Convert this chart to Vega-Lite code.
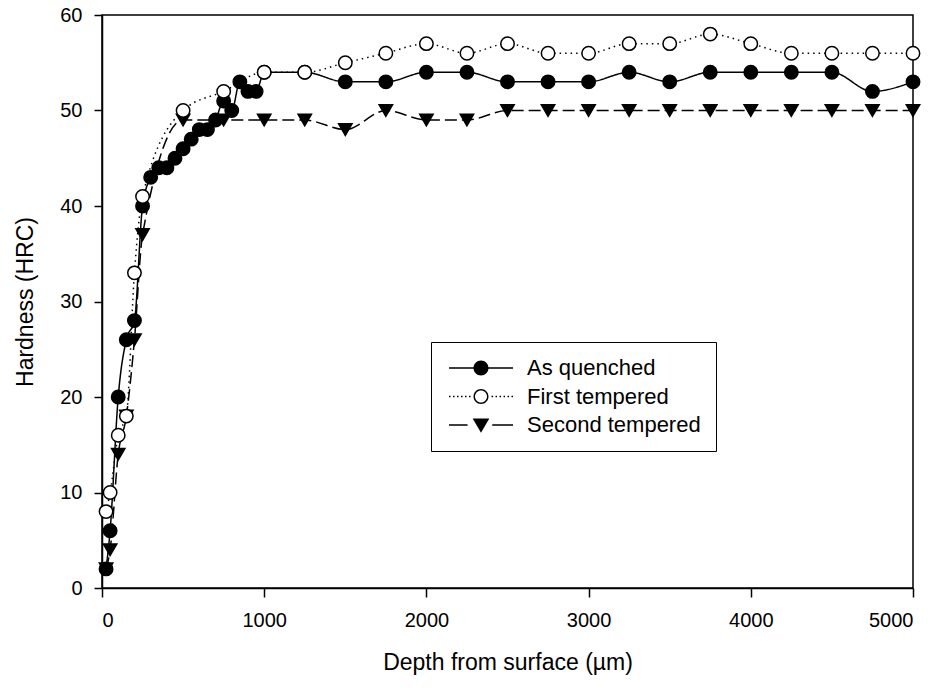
{
  "$schema": "https://vega.github.io/schema/vega-lite/v6.json",
  "width": 811,
  "height": 573,
  "autosize": {"type": "none"},
  "padding": {"left": 102, "top": 15, "right": 28, "bottom": 103},
  "background": "white",
  "config": {
    "font": "Liberation Sans",
    "view": {"stroke": "black", "strokeWidth": 1.5},
    "axis": {
      "domainColor": "black", "domainWidth": 1.5, "tickColor": "black", "tickWidth": 1.5,
      "tickSize": 8, "labelColor": "black", "labelFontSize": 20, "labelFont": "Liberation Sans",
      "titleColor": "black", "titleFontSize": 23, "titleFontWeight": "normal", "titleFont": "Liberation Sans",
      "grid": false
    }
  },
  "data": {"values": [
    {"s": "As quenched", "d": 25, "h": 2},
    {"s": "As quenched", "d": 50, "h": 6},
    {"s": "As quenched", "d": 100, "h": 20},
    {"s": "As quenched", "d": 150, "h": 26},
    {"s": "As quenched", "d": 200, "h": 28},
    {"s": "As quenched", "d": 250, "h": 40},
    {"s": "As quenched", "d": 300, "h": 43},
    {"s": "As quenched", "d": 350, "h": 44},
    {"s": "As quenched", "d": 400, "h": 44},
    {"s": "As quenched", "d": 450, "h": 45},
    {"s": "As quenched", "d": 500, "h": 46},
    {"s": "As quenched", "d": 550, "h": 47},
    {"s": "As quenched", "d": 600, "h": 48},
    {"s": "As quenched", "d": 650, "h": 48},
    {"s": "As quenched", "d": 700, "h": 49},
    {"s": "As quenched", "d": 750, "h": 51},
    {"s": "As quenched", "d": 800, "h": 50},
    {"s": "As quenched", "d": 850, "h": 53},
    {"s": "As quenched", "d": 900, "h": 52},
    {"s": "As quenched", "d": 950, "h": 52},
    {"s": "As quenched", "d": 1000, "h": 54},
    {"s": "As quenched", "d": 1250, "h": 54},
    {"s": "As quenched", "d": 1500, "h": 53},
    {"s": "As quenched", "d": 1750, "h": 53},
    {"s": "As quenched", "d": 2000, "h": 54},
    {"s": "As quenched", "d": 2250, "h": 54},
    {"s": "As quenched", "d": 2500, "h": 53},
    {"s": "As quenched", "d": 2750, "h": 53},
    {"s": "As quenched", "d": 3000, "h": 53},
    {"s": "As quenched", "d": 3250, "h": 54},
    {"s": "As quenched", "d": 3500, "h": 53},
    {"s": "As quenched", "d": 3750, "h": 54},
    {"s": "As quenched", "d": 4000, "h": 54},
    {"s": "As quenched", "d": 4250, "h": 54},
    {"s": "As quenched", "d": 4500, "h": 54},
    {"s": "As quenched", "d": 4750, "h": 52},
    {"s": "As quenched", "d": 5000, "h": 53},
    {"s": "Second tempered", "d": 25, "h": 2},
    {"s": "Second tempered", "d": 50, "h": 4},
    {"s": "Second tempered", "d": 100, "h": 14},
    {"s": "Second tempered", "d": 150, "h": 18},
    {"s": "Second tempered", "d": 200, "h": 26},
    {"s": "Second tempered", "d": 250, "h": 37},
    {"s": "Second tempered", "d": 500, "h": 49},
    {"s": "Second tempered", "d": 750, "h": 49},
    {"s": "Second tempered", "d": 1000, "h": 49},
    {"s": "Second tempered", "d": 1250, "h": 49},
    {"s": "Second tempered", "d": 1500, "h": 48},
    {"s": "Second tempered", "d": 1750, "h": 50},
    {"s": "Second tempered", "d": 2000, "h": 49},
    {"s": "Second tempered", "d": 2250, "h": 49},
    {"s": "Second tempered", "d": 2500, "h": 50},
    {"s": "Second tempered", "d": 2750, "h": 50},
    {"s": "Second tempered", "d": 3000, "h": 50},
    {"s": "Second tempered", "d": 3250, "h": 50},
    {"s": "Second tempered", "d": 3500, "h": 50},
    {"s": "Second tempered", "d": 3750, "h": 50},
    {"s": "Second tempered", "d": 4000, "h": 50},
    {"s": "Second tempered", "d": 4250, "h": 50},
    {"s": "Second tempered", "d": 4500, "h": 50},
    {"s": "Second tempered", "d": 4750, "h": 50},
    {"s": "Second tempered", "d": 5000, "h": 50},
    {"s": "First tempered", "d": 25, "h": 8},
    {"s": "First tempered", "d": 50, "h": 10},
    {"s": "First tempered", "d": 100, "h": 16},
    {"s": "First tempered", "d": 150, "h": 18},
    {"s": "First tempered", "d": 200, "h": 33},
    {"s": "First tempered", "d": 250, "h": 41},
    {"s": "First tempered", "d": 500, "h": 50},
    {"s": "First tempered", "d": 750, "h": 52},
    {"s": "First tempered", "d": 1000, "h": 54},
    {"s": "First tempered", "d": 1250, "h": 54},
    {"s": "First tempered", "d": 1500, "h": 55},
    {"s": "First tempered", "d": 1750, "h": 56},
    {"s": "First tempered", "d": 2000, "h": 57},
    {"s": "First tempered", "d": 2250, "h": 56},
    {"s": "First tempered", "d": 2500, "h": 57},
    {"s": "First tempered", "d": 2750, "h": 56},
    {"s": "First tempered", "d": 3000, "h": 56},
    {"s": "First tempered", "d": 3250, "h": 57},
    {"s": "First tempered", "d": 3500, "h": 57},
    {"s": "First tempered", "d": 3750, "h": 58},
    {"s": "First tempered", "d": 4000, "h": 57},
    {"s": "First tempered", "d": 4250, "h": 56},
    {"s": "First tempered", "d": 4500, "h": 56},
    {"s": "First tempered", "d": 4750, "h": 56},
    {"s": "First tempered", "d": 5000, "h": 56}
  ]},
  "encoding": {
    "x": {"field": "d", "type": "quantitative", "scale": {"domain": [0, 5000], "nice": false},
      "axis": {"values": [0, 1000, 2000, 3000, 4000, 5000], "format": "d", "title": "Depth from surface (µm)", "tickSize": 9, "labelPadding": 13, "titlePadding": 21}},
    "y": {"field": "h", "type": "quantitative", "scale": {"domain": [0, 60], "nice": false},
      "axis": {"values": [0, 10, 20, 30, 40, 50, 60], "title": "Hardness (HRC)", "labelPadding": 12, "titlePadding": 22}}
  },
  "layer": [
    {
      "mark": {"type": "line", "interpolate": "monotone", "color": "black", "strokeWidth": 1.5},
      "encoding": {
        "detail": {"field": "s"},
        "strokeDash": {"field": "s", "type": "nominal", "legend": null,
          "scale": {"domain": ["As quenched", "First tempered", "Second tempered"], "range": [[1, 0], [1.5, 4], [12, 5]]}}
      }
    },
    {
      "mark": {"type": "point", "filled": false, "stroke": "black", "strokeWidth": 1.5, "size": 180, "opacity": 1},
      "encoding": {
        "shape": {"field": "s", "type": "nominal", "legend": null,
          "scale": {"domain": ["As quenched", "First tempered", "Second tempered"], "range": ["circle", "circle", "triangle-down"]}},
        "fill": {"field": "s", "type": "nominal", "legend": null,
          "scale": {"domain": ["As quenched", "First tempered", "Second tempered"], "range": ["black", "white", "black"]}}
      }
    },
    {
      "mark": {"type": "point", "filled": true, "color": "black", "opacity": 0, "size": 256},
      "encoding": {
        "shape": {"field": "s", "type": "nominal",
          "scale": {"domain": ["As quenched", "First tempered", "Second tempered"], "range": [
            "M-4,-0.094H4V0.094H-4Z M0.936,0A0.936,0.936 0 1,1 -0.936,0A0.936,0.936 0 1,1 0.936,0Z",
            "M-4,-0.094h0.19v0.19h-0.19Z M-3.5,-0.094h0.19v0.19h-0.19Z M-3,-0.094h0.19v0.19h-0.19Z M-2.5,-0.094h0.19v0.19h-0.19Z M-2,-0.094h0.19v0.19h-0.19Z M-1.5,-0.094h0.19v0.19h-0.19Z M1.32,-0.094h0.19v0.19h-0.19Z M1.82,-0.094h0.19v0.19h-0.19Z M2.32,-0.094h0.19v0.19h-0.19Z M2.82,-0.094h0.19v0.19h-0.19Z M3.32,-0.094h0.19v0.19h-0.19Z M3.81,-0.094h0.19v0.19h-0.19Z M0.936,0A0.936,0.936 0 1,1 -0.936,0A0.936,0.936 0 1,1 0.936,0Z M0.75,0A0.75,0.75 0 1,0 -0.75,0A0.75,0.75 0 1,0 0.75,0Z",
            "M-4,-0.094H-1.68V0.094H-4Z M1.4,-0.094H4V0.094H1.4Z M-1.04,-0.8H1.04L0,0.96Z"
          ]},
          "legend": {
            "title": null, "orient": "none", "legendX": 329, "legendY": 327,
            "direction": "vertical",
            "strokeColor": "black", "fillColor": "white", "padding": 15, "cornerRadius": 0,
            "labelFont": "Liberation Sans", "labelFontSize": 22, "labelColor": "black",
            "symbolSize": 256, "symbolOffset": 24, "labelOffset": 35, "rowPadding": 6.5, "labelLimit": 400,
            "encode": {
              "symbols": {"update": {"opacity": {"value": 1}, "fill": {"value": "black"}, "fillOpacity": {"value": 1}, "stroke": {"value": "transparent"}, "strokeWidth": {"value": 0}}},
              "legend": {"update": {"strokeWidth": {"value": 1.5}}}
            }
          }
        }
      }
    }
  ],
  "resolve": {"scale": {"shape": "independent", "fill": "independent"}}
}
